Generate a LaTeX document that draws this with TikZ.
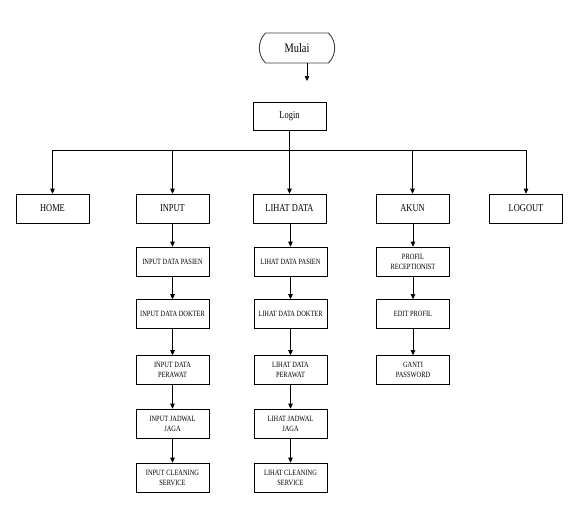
\documentclass[tikz,border=0pt]{standalone}
\usepackage{fontspec}
\newfontfamily\chartfont{Liberation Serif}[FakeStretch=0.8]
\usetikzlibrary{arrows.meta,shapes.misc}

\begin{document}
\begin{tikzpicture}[x=1pt,y=-1pt,
    menubox/.style={draw, line width=0.6pt, minimum width=73pt, minimum height=29pt, inner sep=1pt, font=\chartfont\fontsize{10.5}{12}\selectfont},
    subbox/.style={draw, line width=0.6pt, minimum width=73pt, minimum height=29pt, inner sep=1pt, align=center, font=\chartfont\fontsize{8}{10}\selectfont},
    arr/.style={-{Triangle[length=5pt,width=4.5pt]}, line width=0.6pt},
    link/.style={line width=0.6pt}]
  \useasboundingbox (0,0) rectangle (585,506);
  % start and login
  \node[draw=black!75, line width=0.9pt, rounded rectangle, rounded rectangle arc length=90, minimum width=82pt, minimum height=30pt, font=\chartfont\fontsize{13}{15}\selectfont] (mulai) at (297,48) {Mulai};
  \coordinate (mend) at (307,81);
  \draw[arr] (mulai.south -| mend) -- (mend);
  \node[menubox, minimum height=28pt] (login) at (289.5,116) {Login};
  % main menu
  \node[menubox] (home) at (52.5,208.5) {HOME};
  \node[menubox] (input) at (172.5,208.5) {INPUT};
  \node[menubox] (lihat) at (289.5,208.5) {LIHAT DATA};
  \node[menubox] (akun) at (412.5,208.5) {AKUN};
  \node[menubox] (logout) at (526,208.5) {LOGOUT};
  \coordinate (bus) at (289.5,150);
  \draw[link] (login) -- (bus);
  \draw[link] (bus -| home) -- (bus -| logout);
  \draw[arr] (bus -| home) -- (home);
  \draw[arr] (bus -| input) -- (input);
  \draw[arr] (bus -| lihat) -- (lihat);
  \draw[arr] (bus -| akun) -- (akun);
  \draw[arr] (bus -| logout) -- (logout);
  % input column
  \node[subbox] (inpasien) at (172.5,261.5) {INPUT DATA PASIEN};
  \node[subbox] (indokter) at (172.5,314) {INPUT DATA DOKTER};
  \node[subbox] (inperawat) at (172.5,370) {INPUT DATA\\PERAWAT};
  \node[subbox] (injadwal) at (172.5,423.5) {INPUT JADWAL\\JAGA};
  \node[subbox] (inclean) at (172.5,477.5) {INPUT CLEANING\\SERVICE};
  \draw[arr] (input) -- (inpasien);
  \draw[arr] (inpasien) -- (indokter);
  \draw[arr] (indokter) -- (inperawat);
  \draw[arr] (inperawat) -- (injadwal);
  \draw[arr] (injadwal) -- (inclean);
  % lihat data column
  \node[subbox] (lhpasien) at (290.5,261.5) {LIHAT DATA PASIEN};
  \node[subbox] (lhdokter) at (290.5,314) {LIHAT DATA DOKTER};
  \node[subbox] (lhperawat) at (290.5,370) {LIHAT DATA\\PERAWAT};
  \node[subbox] (lhjadwal) at (290.5,423.5) {LIHAT JADWAL\\JAGA};
  \node[subbox] (lhclean) at (290.5,477.5) {LIHAT CLEANING\\SERVICE};
  \draw[arr] (lihat.south -| lhpasien) -- (lhpasien);
  \draw[arr] (lhpasien) -- (lhdokter);
  \draw[arr] (lhdokter) -- (lhperawat);
  \draw[arr] (lhperawat) -- (lhjadwal);
  \draw[arr] (lhjadwal) -- (lhclean);
  % akun column
  \node[subbox] (profil) at (413,261.5) {PROFIL\\RECEPTIONIST};
  \node[subbox] (edit) at (413,314) {EDIT PROFIL};
  \node[subbox] (ganti) at (413,370) {GANTI\\PASSWORD};
  \draw[arr] (akun.south -| profil) -- (profil);
  \draw[arr] (profil) -- (edit);
  \draw[arr] (edit) -- (ganti);
\end{tikzpicture}
\end{document}
